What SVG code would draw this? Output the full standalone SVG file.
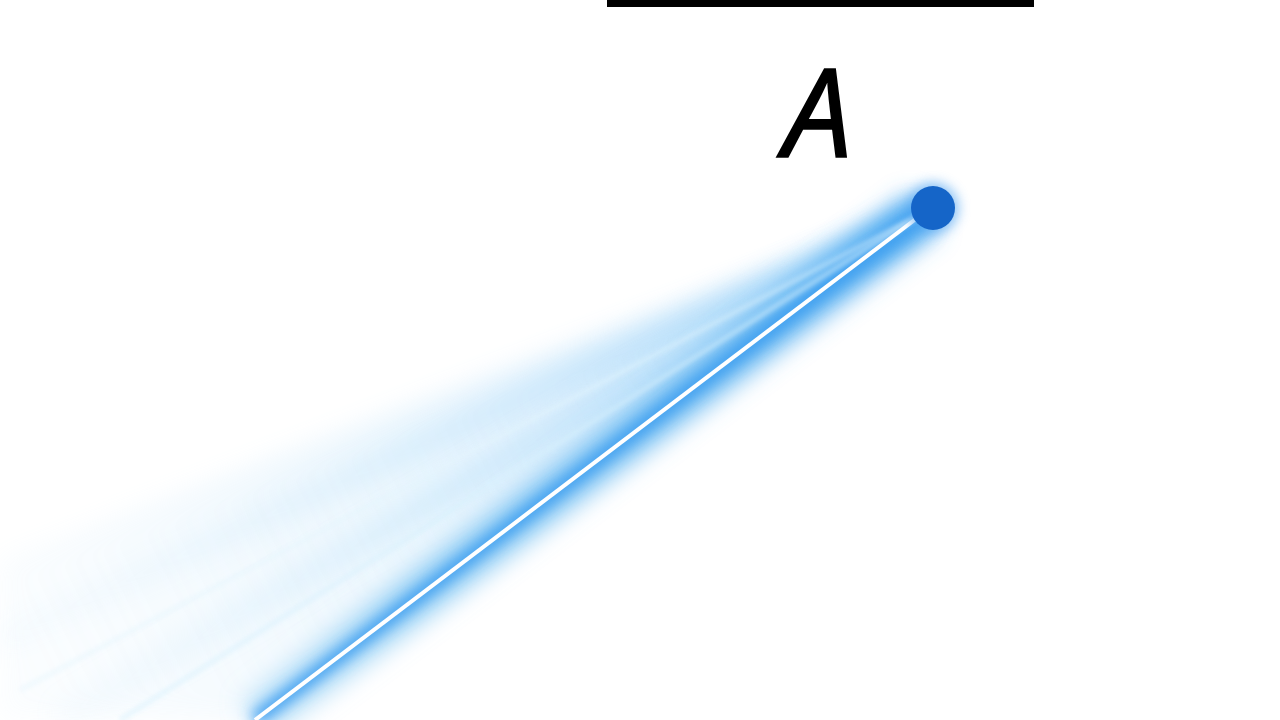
<svg xmlns="http://www.w3.org/2000/svg" width="1280" height="720" viewBox="0 0 1280 720">
<defs>
<filter id="blurBig" x="-50%" y="-50%" width="200%" height="200%"><feGaussianBlur stdDeviation="12"/></filter>
<filter id="blurMid" x="-50%" y="-50%" width="200%" height="200%"><feGaussianBlur stdDeviation="7"/></filter>
<filter id="blurSm" x="-50%" y="-50%" width="200%" height="200%"><feGaussianBlur stdDeviation="2.5"/></filter>
<filter id="dotGlow" x="-100%" y="-100%" width="300%" height="300%"><feGaussianBlur stdDeviation="6"/></filter>
<linearGradient id="fade" gradientUnits="userSpaceOnUse" x1="930" y1="210" x2="0" y2="720">
<stop offset="0" stop-color="#4aa8f0" stop-opacity="1"/>
<stop offset="0.6" stop-color="#7cc4f2" stop-opacity="0.8"/>
<stop offset="1" stop-color="#bfe4fa" stop-opacity="0.4"/>
</linearGradient>
<linearGradient id="fade2" gradientUnits="userSpaceOnUse" x1="930" y1="210" x2="0" y2="680">
<stop offset="0" stop-color="#5ab4f4" stop-opacity="0.9"/>
<stop offset="1" stop-color="#cdeafa" stop-opacity="0.2"/>
</linearGradient>
<style>
.lbl{font-family:"Open Sans","Noto Sans","DejaVu Sans",sans-serif;font-style:italic;font-size:122px;fill:#000;stroke:#000;stroke-width:1.6px}
</style>
</defs>
<rect width="1280" height="720" fill="#fff"/>
<rect x="607" y="0" width="427" height="7" fill="#000"/>
<g id="beam">
<polygon points="925,212 0,560 0,720 250,720" fill="url(#fade2)" opacity="0.4" filter="url(#blurBig)"/>
<line x1="925" y1="212" x2="0" y2="640" stroke="url(#fade2)" stroke-width="22" opacity="0.45" filter="url(#blurBig)"/>
<line x1="925" y1="212" x2="60" y2="720" stroke="url(#fade2)" stroke-width="26" opacity="0.5" filter="url(#blurBig)"/>
<line x1="925" y1="212" x2="255" y2="720" stroke="url(#fade)" stroke-width="44" filter="url(#blurBig)"/>
<line x1="925" y1="212" x2="255" y2="720" stroke="#3d9ef0" stroke-width="14" filter="url(#blurMid)"/>
<line x1="925" y1="212" x2="120" y2="720" stroke="#d8f1fd" stroke-width="4" opacity="0.7" filter="url(#blurSm)"/>
<line x1="925" y1="212" x2="20" y2="690" stroke="#e4f5fd" stroke-width="4" opacity="0.6" filter="url(#blurSm)"/>
<line x1="925" y1="212" x2="255" y2="720" stroke="#fff" stroke-width="4"/>
</g>
<g id="pointA">
<circle cx="933" cy="208" r="26" fill="#4aa0f0" opacity="0.6" filter="url(#dotGlow)"/>
<circle cx="933" cy="208" r="22" fill="#1565c8"/>
<text class="lbl" x="818" y="157" text-anchor="middle">A</text>
</g>
</svg>
